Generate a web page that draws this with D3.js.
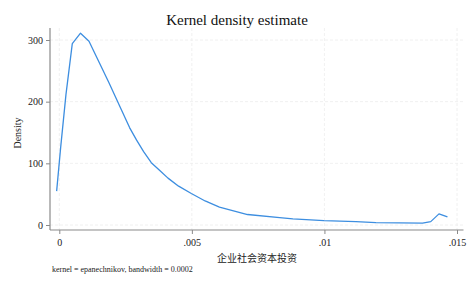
<!DOCTYPE html>
<html lang="en">
<head>
    <meta charset="UTF-8">
    <title>Kernel density estimate</title>
    <script src="https://d3js.org/d3.v7.min.js"></script>
    <style>
        body { margin: 0; background: #fff; }
        #chart { width: 474px; height: 284px; }
    </style>
</head>
<body>
    <div id="chart"></div>
    <script>
        // density curve
        const xVals = [-0.0001, 0.00005, 0.00025, 0.00049, 0.0008, 0.00112, 0.00186, 0.00235, 0.00265, 0.00291, 0.00318, 0.00347, 0.0038, 0.0041, 0.0045, 0.00498, 0.0055, 0.00604, 0.0071, 0.00831, 0.00881, 0.00998, 0.01119, 0.01194, 0.0137, 0.01401, 0.01432, 0.01464];
        const densVals = [55, 125, 211, 294, 311, 298, 232, 186, 158, 138, 119, 101, 88, 76, 63, 51, 39, 29, 17, 12, 10, 7, 5.5, 4, 3, 5.5, 18, 13];
        const xTicks = [0, 0.005, 0.01, 0.015];
        const xTickLabels = ["0", ".005", ".01", ".015"];
        const yTicks = [0, 100, 200, 300];

        const W = 474, H = 284;
        const serif = "'Liberation Serif', 'Times New Roman', serif";
        const grey = "#8a8a8a";

        const svg = d3.select("#chart").append("svg")
            .attr("width", W).attr("height", H);

        // x: 0 -> 59.3px, .015 -> 457px
        const x = d3.scaleLinear().domain([0, 0.015]).range([59.3, 457]);
        const y = d3.scaleLinear().domain([0, 300]).range([225, 40]);

        const pLeft = 50, pRight = 463.5, pTop = 28, pBottom = 230;

        // grid
        svg.append("g").selectAll("line").data(yTicks).enter().append("line")
            .attr("x1", pLeft).attr("x2", pRight)
            .attr("y1", d => y(d)).attr("y2", d => y(d))
            .attr("stroke", "#ececec").attr("stroke-width", 0.8)
            .attr("stroke-dasharray", "3,2");
        svg.append("g").selectAll("line").data(xTicks).enter().append("line")
            .attr("x1", d => x(d)).attr("x2", d => x(d))
            .attr("y1", pTop).attr("y2", pBottom)
            .attr("stroke", "#ececec").attr("stroke-width", 0.8)
            .attr("stroke-dasharray", "3,2");

        // axes
        const yAxis = d3.axisLeft(y).tickValues(yTicks).tickSize(4).tickPadding(3);
        const gy = svg.append("g").attr("transform", `translate(${pLeft},0)`).call(yAxis);
        gy.select(".domain").remove();
        svg.append("line").attr("x1", pLeft).attr("x2", pLeft).attr("y1", pTop).attr("y2", pBottom)
            .attr("stroke", grey).attr("stroke-width", 1.2);

        const xAxis = d3.axisBottom(x).tickValues(xTicks)
            .tickFormat((d, i) => xTickLabels[i]).tickSize(4).tickPadding(5);
        const gx = svg.append("g").attr("transform", `translate(0,${pBottom})`).call(xAxis);
        gx.select(".domain").remove();
        svg.append("line").attr("x1", pLeft).attr("x2", pRight).attr("y1", pBottom).attr("y2", pBottom)
            .attr("stroke", grey).attr("stroke-width", 1.2);

        [gx, gy].forEach(g => {
            g.attr("font-family", serif).attr("font-size", 10);
            g.selectAll(".tick line").attr("stroke", grey);
            g.selectAll(".tick text").attr("fill", "#222");
        });

        // curve
        const line = d3.line().x((d, i) => x(xVals[i])).y(d => y(d));
        svg.append("path").datum(densVals)
            .attr("d", line)
            .attr("fill", "none")
            .attr("stroke", "#3d8ee0")
            .attr("stroke-width", 1.3)
            .attr("stroke-linejoin", "round");

        // text
        svg.append("text").attr("x", 237).attr("y", 25).attr("text-anchor", "middle")
            .attr("font-family", serif).attr("font-size", 15).attr("fill", "#111")
            .text("Kernel density estimate");

        svg.append("text").attr("transform", "rotate(-90)")
            .attr("x", -133).attr("y", 21).attr("text-anchor", "middle")
            .attr("font-family", serif).attr("font-size", 10).attr("fill", "#222")
            .text("Density");

        svg.append("text").attr("x", 257).attr("y", 262).attr("text-anchor", "middle")
            .attr("font-family", "'Noto Sans CJK SC', sans-serif").attr("font-size", 10).attr("fill", "#222")
            .text("企业社会资本投资");

        svg.append("text").attr("x", 52).attr("y", 272)
            .attr("font-family", serif).attr("font-size", 8).attr("fill", "#222")
            .text("kernel = epanechnikov, bandwidth = 0.0002");
    </script>
</body>
</html>
